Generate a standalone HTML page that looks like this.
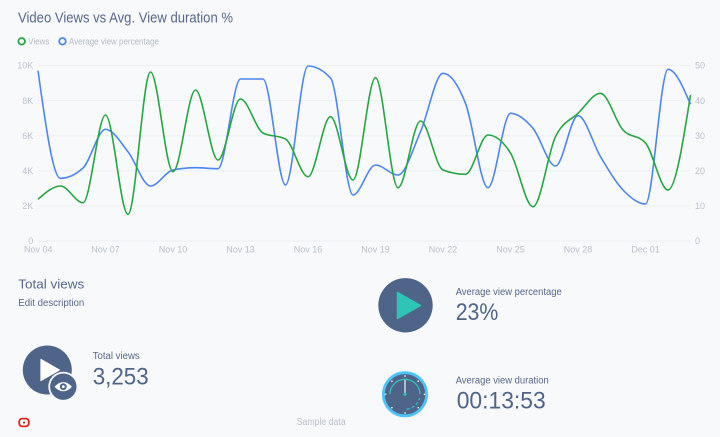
<!DOCTYPE html>
<html>
<head>
<meta charset="utf-8">
<style>
  html,body{margin:0;padding:0;background:#f8f9fb;}
  body{width:720px;height:437px;overflow:hidden;}
  svg{display:block;font-family:"Liberation Sans",sans-serif;}
</style>
</head>
<body>
<svg width="720" height="437" viewBox="0 0 720 437" xmlns="http://www.w3.org/2000/svg">
  <rect x="0" y="0" width="720" height="437" fill="#f8f9fb"/>

  <!-- Title -->
  <text x="18" y="22.7" font-size="15" fill="#55678a" textLength="215" lengthAdjust="spacingAndGlyphs">Video Views vs Avg. View duration %</text>

  <!-- Legend -->
  <circle cx="21.7" cy="41.3" r="3.3" fill="none" stroke="#26a641" stroke-width="1.8"/>
  <text x="28.3" y="44.3" font-size="9" fill="#b3bac6" textLength="21" lengthAdjust="spacingAndGlyphs">Views</text>
  <circle cx="62.5" cy="41.3" r="3.3" fill="none" stroke="#4c86ef" stroke-width="1.8"/>
  <text x="69" y="44.3" font-size="9" fill="#b3bac6" textLength="90" lengthAdjust="spacingAndGlyphs">Average view percentage</text>

  <!-- Gridlines -->
  <g stroke="#eef0f4" stroke-width="1">
    <line x1="38" y1="65.5" x2="690" y2="65.5"/>
    <line x1="38" y1="100.6" x2="690" y2="100.6"/>
    <line x1="38" y1="135.7" x2="690" y2="135.7"/>
    <line x1="38" y1="170.8" x2="690" y2="170.8"/>
    <line x1="38" y1="205.9" x2="690" y2="205.9"/>
    <line x1="38" y1="241" x2="690" y2="241"/>
  </g>

  <!-- Left axis labels -->
  <g font-size="9" fill="#b9c0cc" text-anchor="end">
    <text x="33.3" y="68.7">10K</text>
    <text x="33.3" y="103.8">8K</text>
    <text x="33.3" y="138.9">6K</text>
    <text x="33.3" y="174">4K</text>
    <text x="33.3" y="209.1">2K</text>
    <text x="33.3" y="244.2">0</text>
  </g>
  <!-- Right axis labels -->
  <g font-size="9" fill="#b9c0cc">
    <text x="695" y="68.7">50</text>
    <text x="695" y="103.8">40</text>
    <text x="695" y="138.9">30</text>
    <text x="695" y="174">20</text>
    <text x="695" y="209.1">10</text>
    <text x="695" y="244.2">0</text>
  </g>
  <!-- X axis labels -->
  <g font-size="9" fill="#b9c0cc" text-anchor="middle">
    <text x="38.3" y="252.7">Nov 04</text>
    <text x="105.5" y="252.7">Nov 07</text>
    <text x="173" y="252.7">Nov 10</text>
    <text x="240.5" y="252.7">Nov 13</text>
    <text x="308" y="252.7">Nov 16</text>
    <text x="375.5" y="252.7">Nov 19</text>
    <text x="443" y="252.7">Nov 22</text>
    <text x="510.5" y="252.7">Nov 25</text>
    <text x="578" y="252.7">Nov 28</text>
    <text x="645.5" y="252.7">Dec 01</text>
  </g>

  <!-- Series -->
  <path id="blueLine" d="" fill="none" stroke="#4c86ef" stroke-width="1.6" stroke-linejoin="round"/>
  <path id="greenLine" d="" fill="none" stroke="#26a641" stroke-width="1.6" stroke-linejoin="round"/>

  <!-- Bottom left -->
  <text x="18.3" y="288.3" font-size="13" fill="#55678a" textLength="66" lengthAdjust="spacingAndGlyphs">Total views</text>
  <text x="18.3" y="306" font-size="10" fill="#55678a" textLength="66" lengthAdjust="spacingAndGlyphs">Edit description</text>

  <circle cx="47.3" cy="370" r="24.5" fill="#4e6589"/>
  <path d="M41,359.5 L59.3,370 L41,380.5 Z" fill="#ffffff" stroke="#ffffff" stroke-width="1.2" stroke-linejoin="round"/>
  <circle cx="63.3" cy="386.7" r="15" fill="#f8f9fb"/>
  <circle cx="63.3" cy="386.7" r="13.2" fill="#4e6589"/>
  <path d="M54.5,386.7 Q63.3,377.5 72,386.7 Q63.3,395.9 54.5,386.7 Z" fill="#ffffff"/>
  <circle cx="63.3" cy="386.7" r="3.4" fill="#4e6589"/>
  <circle cx="63.3" cy="386.7" r="1.4" fill="#ffffff"/>

  <text x="92.7" y="359" font-size="10" fill="#55678a" textLength="47" lengthAdjust="spacingAndGlyphs">Total views</text>
  <text x="92.7" y="384.3" font-size="24" fill="#4e6589" textLength="56" lengthAdjust="spacingAndGlyphs">3,253</text>

  <!-- YouTube icon -->
  <rect x="19.2" y="418.6" width="9.6" height="7.8" rx="3" fill="#ffffff" stroke="#e0231c" stroke-width="1.8"/>
  <circle cx="24" cy="422.5" r="1.1" fill="#e0231c"/>

  <text x="296.7" y="425" font-size="10" fill="#b9c0cc" textLength="49" lengthAdjust="spacingAndGlyphs">Sample data</text>

  <!-- Right: average view percentage -->
  <circle cx="405.5" cy="305.3" r="27.2" fill="#4e6589"/>
  <path d="M397.5,292.5 L420.5,305.5 L397.5,318.5 Z" fill="#2ec4b6" stroke="#2ec4b6" stroke-width="1.5" stroke-linejoin="round"/>
  <text x="455.7" y="295" font-size="10" fill="#55678a" textLength="106" lengthAdjust="spacingAndGlyphs">Average view percentage</text>
  <text x="455.7" y="320" font-size="24" fill="#4e6589" textLength="42.6" lengthAdjust="spacingAndGlyphs">23%</text>

  <!-- Right: average view duration (clock) -->
  <circle cx="405" cy="394.3" r="21.6" fill="#4e6589" stroke="#4fc3f7" stroke-width="2.8"/>
  <path d="M390,394.3 A15,15 0 0 1 420,394.3" fill="none" stroke="#2ec4b6" stroke-width="1.3"/>
  <path d="M406.8,409.2 A15,15 0 0 0 419.5,398.2" fill="none" stroke="#2ec4b6" stroke-width="1.3" stroke-dasharray="3,2.2"/>
  <line x1="405" y1="394.3" x2="405" y2="380" stroke="#ffffff" stroke-width="1.1"/>
  <circle cx="405" cy="394.3" r="1.6" fill="#2ec4b6"/>
  <g fill="#ffffff">
    <rect x="404.3" y="375.3" width="1.4" height="1.4"/>
    <rect x="391.2" y="380.5" width="1.4" height="1.4"/>
    <rect x="417.5" y="380.5" width="1.4" height="1.4"/>
    <rect x="384.8" y="393.6" width="1.4" height="1.4"/>
    <rect x="423.8" y="393.6" width="1.4" height="1.4"/>
    <rect x="391.2" y="407" width="1.4" height="1.4"/>
    <rect x="417.5" y="407" width="1.4" height="1.4"/>
    <rect x="404.3" y="412.3" width="1.4" height="1.4"/>
  </g>
  <text x="455.7" y="383.3" font-size="10" fill="#55678a" textLength="93" lengthAdjust="spacingAndGlyphs">Average view duration</text>
  <text x="456.7" y="408.3" font-size="24" fill="#4e6589" textLength="89" lengthAdjust="spacingAndGlyphs">00:13:53</text>
</svg>
<script>
(function(){
  var green=[199.3,186,202.7,115,214.3,72,171.7,90,160,99,133,139,176.7,116.7,180,77.7,187.7,121,170,174.3,135,153,206.7,136.7,113.3,93.3,130,143,190,95];
  var blue=[70.7,178.3,168,129.3,151.7,186,170,167.7,168.7,79,79,185,66,78,195,165,175,131.7,73.3,103.3,187.7,113.3,128.3,166,115.7,156.7,190,204,69.3,104.3];
  function X(i){return 38+22.5*i;}
  function path(ys){
    var n=ys.length,xs=[],t=[],i;
    for(i=0;i<n;i++)xs.push(X(i));
    for(i=1;i<n-1;i++){
      var h0=xs[i]-xs[i-1],h1=xs[i+1]-xs[i],s0=(ys[i]-ys[i-1])/h0,s1=(ys[i+1]-ys[i])/h1,p=(s0*h1+s1*h0)/(h0+h1);
      t[i]=(Math.sign(s0)+Math.sign(s1))*Math.min(Math.abs(s0),Math.abs(s1),0.5*Math.abs(p))||0;
    }
    var h=xs[1]-xs[0];t[0]=(3*(ys[1]-ys[0])/h-t[1])/2;
    var hl=xs[n-1]-xs[n-2];t[n-1]=(3*(ys[n-1]-ys[n-2])/hl-t[n-2])/2;
    var d="M"+xs[0]+","+ys[0];
    for(i=0;i<n-1;i++){
      var dx=(xs[i+1]-xs[i])/3;
      d+="C"+(xs[i]+dx)+","+(ys[i]+dx*t[i])+","+(xs[i+1]-dx)+","+(ys[i+1]-dx*t[i+1])+","+xs[i+1]+","+ys[i+1];
    }
    return d;
  }
  document.getElementById("greenLine").setAttribute("d",path(green));
  document.getElementById("blueLine").setAttribute("d",path(blue));
})();
</script>
</body>
</html>
